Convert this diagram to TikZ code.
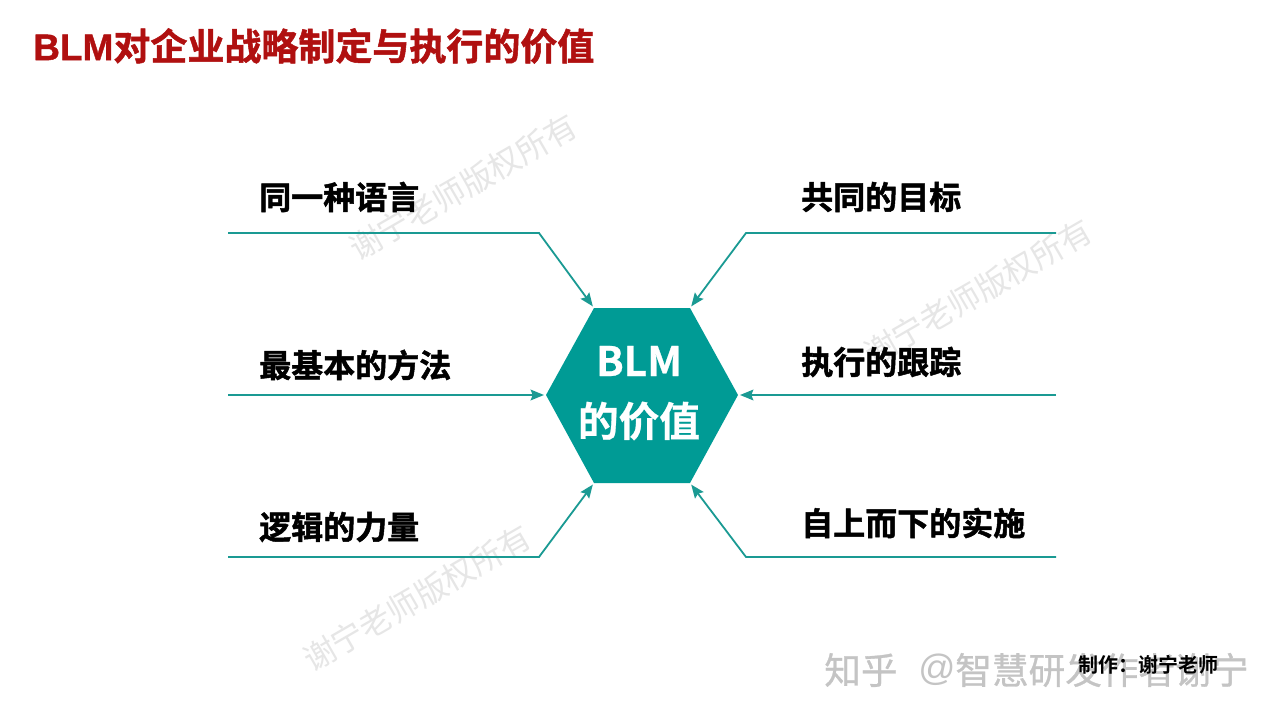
\documentclass[tikz,border=0pt]{standalone}
\usepackage{fontspec}
\setmainfont{Liberation Sans}
\newfontfamily\cjk{Noto Sans CJK SC}[BoldFont={* Bold}]
\newfontfamily\cjkh{Noto Sans CJK SC Bold}[FakeBold=1.5]
\newfontfamily\cjkt{Noto Sans CJK SC Bold}[FakeBold=1.4]
\newfontfamily\cjkz{Noto Sans CJK SC}[FakeBold=0.8]
\newfontfamily\cjkw{Noto Sans CJK SC Bold}[FakeBold=0.6]
\newfontfamily\latt{Liberation Sans Bold}[FakeBold=1.0]
\definecolor{teal1}{HTML}{009B95}
\definecolor{linec}{HTML}{1A9A93}
\definecolor{titlered}{HTML}{B01010}
\definecolor{wm}{HTML}{E6E6E6}
\definecolor{zh}{HTML}{C4C4C4}
\usetikzlibrary{arrows.meta}
\tikzset{
  px/.style={x=0.75pt,y=-0.75pt},
  lab/.style={anchor=west,inner sep=0pt,font=\cjkh\fontsize{24pt}{28pt}\selectfont,text=black},
  conn/.style={draw=linec,line width=1.35pt,shorten >=1.5pt,-{Stealth[length=10pt,width=8pt,inset=1.5pt]}},
  wmark/.style={rotate=30,inner sep=0pt,text=wm,font=\cjk\fontsize{24pt}{28pt}\selectfont},
  hexa/.style={fill=teal1,draw=none},
  hextxt/.style={inner sep=0pt,text=white,align=center,font=\cjkw\fontsize{30.5pt}{36pt}\selectfont},
  zhtxt/.style={anchor=west,inner sep=0pt,text=zh,font=\cjkz\fontsize{27.5pt}{32pt}\selectfont},
}
\begin{document}
\begin{tikzpicture}[px]
\useasboundingbox (0,0) rectangle (1280,720);
\fill[white] (0,0) rectangle (1280,720);
% watermarks
\node[wmark] (w1) at (463,187) {谢宁老师版权所有};
\node[wmark] (w2) at (978,292) {谢宁老师版权所有};
\node[wmark] (w3) at (417,598) {谢宁老师版权所有};
% title
\node[anchor=west,inner sep=0pt,text=titlered,font=\cjkt\fontsize{27.75pt}{32pt}\selectfont] (title) at (33,46) {{\latt BLM}对企业战略制定与执行的价值};
% hexagon
\coordinate (h1) at (594,308);
\coordinate (h2) at (690,308);
\coordinate (h3) at (738,395);
\coordinate (h4) at (690,483);
\coordinate (h5) at (594,483);
\coordinate (h6) at (546,395);
\path[hexa] (h1) -- (h2) -- (h3) -- (h4) -- (h5) -- (h6) -- cycle;
\node[hextxt] (c1) at (639,361) {BLM};
\node[hextxt] (c2) at (639,421) {的价值};
% labels
\node[lab] (l1) at (259,197) {同一种语言};
\node[lab] (l2) at (259,365) {最基本的方法};
\node[lab] (l3) at (259,527) {逻辑的力量};
\node[lab] (r1) at (801,197) {共同的目标};
\node[lab] (r2) at (801,362) {执行的跟踪};
\node[lab] (r3) at (801,523) {自上而下的实施};
% connector ends
\coordinate (a1) at (228,233); \coordinate (b1) at (539,233);
\coordinate (a2) at (228,395);
\coordinate (a3) at (228,557); \coordinate (b3) at (539,557);
\coordinate (d1) at (1056,233); \coordinate (e1) at (746,233);
\coordinate (d2) at (1056,395);
\coordinate (d3) at (1056,557); \coordinate (e3) at (746,557);
\path[conn] (a1) -- (b1) -- (h1);
\path[conn] (a2) -- (h6);
\path[conn] (a3) -- (b3) -- (h5);
\path[conn] (d1) -- (e1) -- (h2);
\path[conn] (d2) -- (h3);
\path[conn] (d3) -- (e3) -- (h4);
% footer
\node[zhtxt] (zhihu) at (955,670) {智慧研发作者谢宁};
\node[zhtxt] (zhihu2) at (824,670) {知乎};
\node[zhtxt,font=\fontspec{Liberation Sans}\fontsize{27.5pt}{32pt}\selectfont] (zhihu3) at (918,670) {@};
\node[anchor=center,inner sep=0pt,font=\cjk\bfseries\fontsize{15pt}{20pt}\selectfont] (foot) at (1148,665) {制作：谢宁老师};
\end{tikzpicture}
\end{document}
